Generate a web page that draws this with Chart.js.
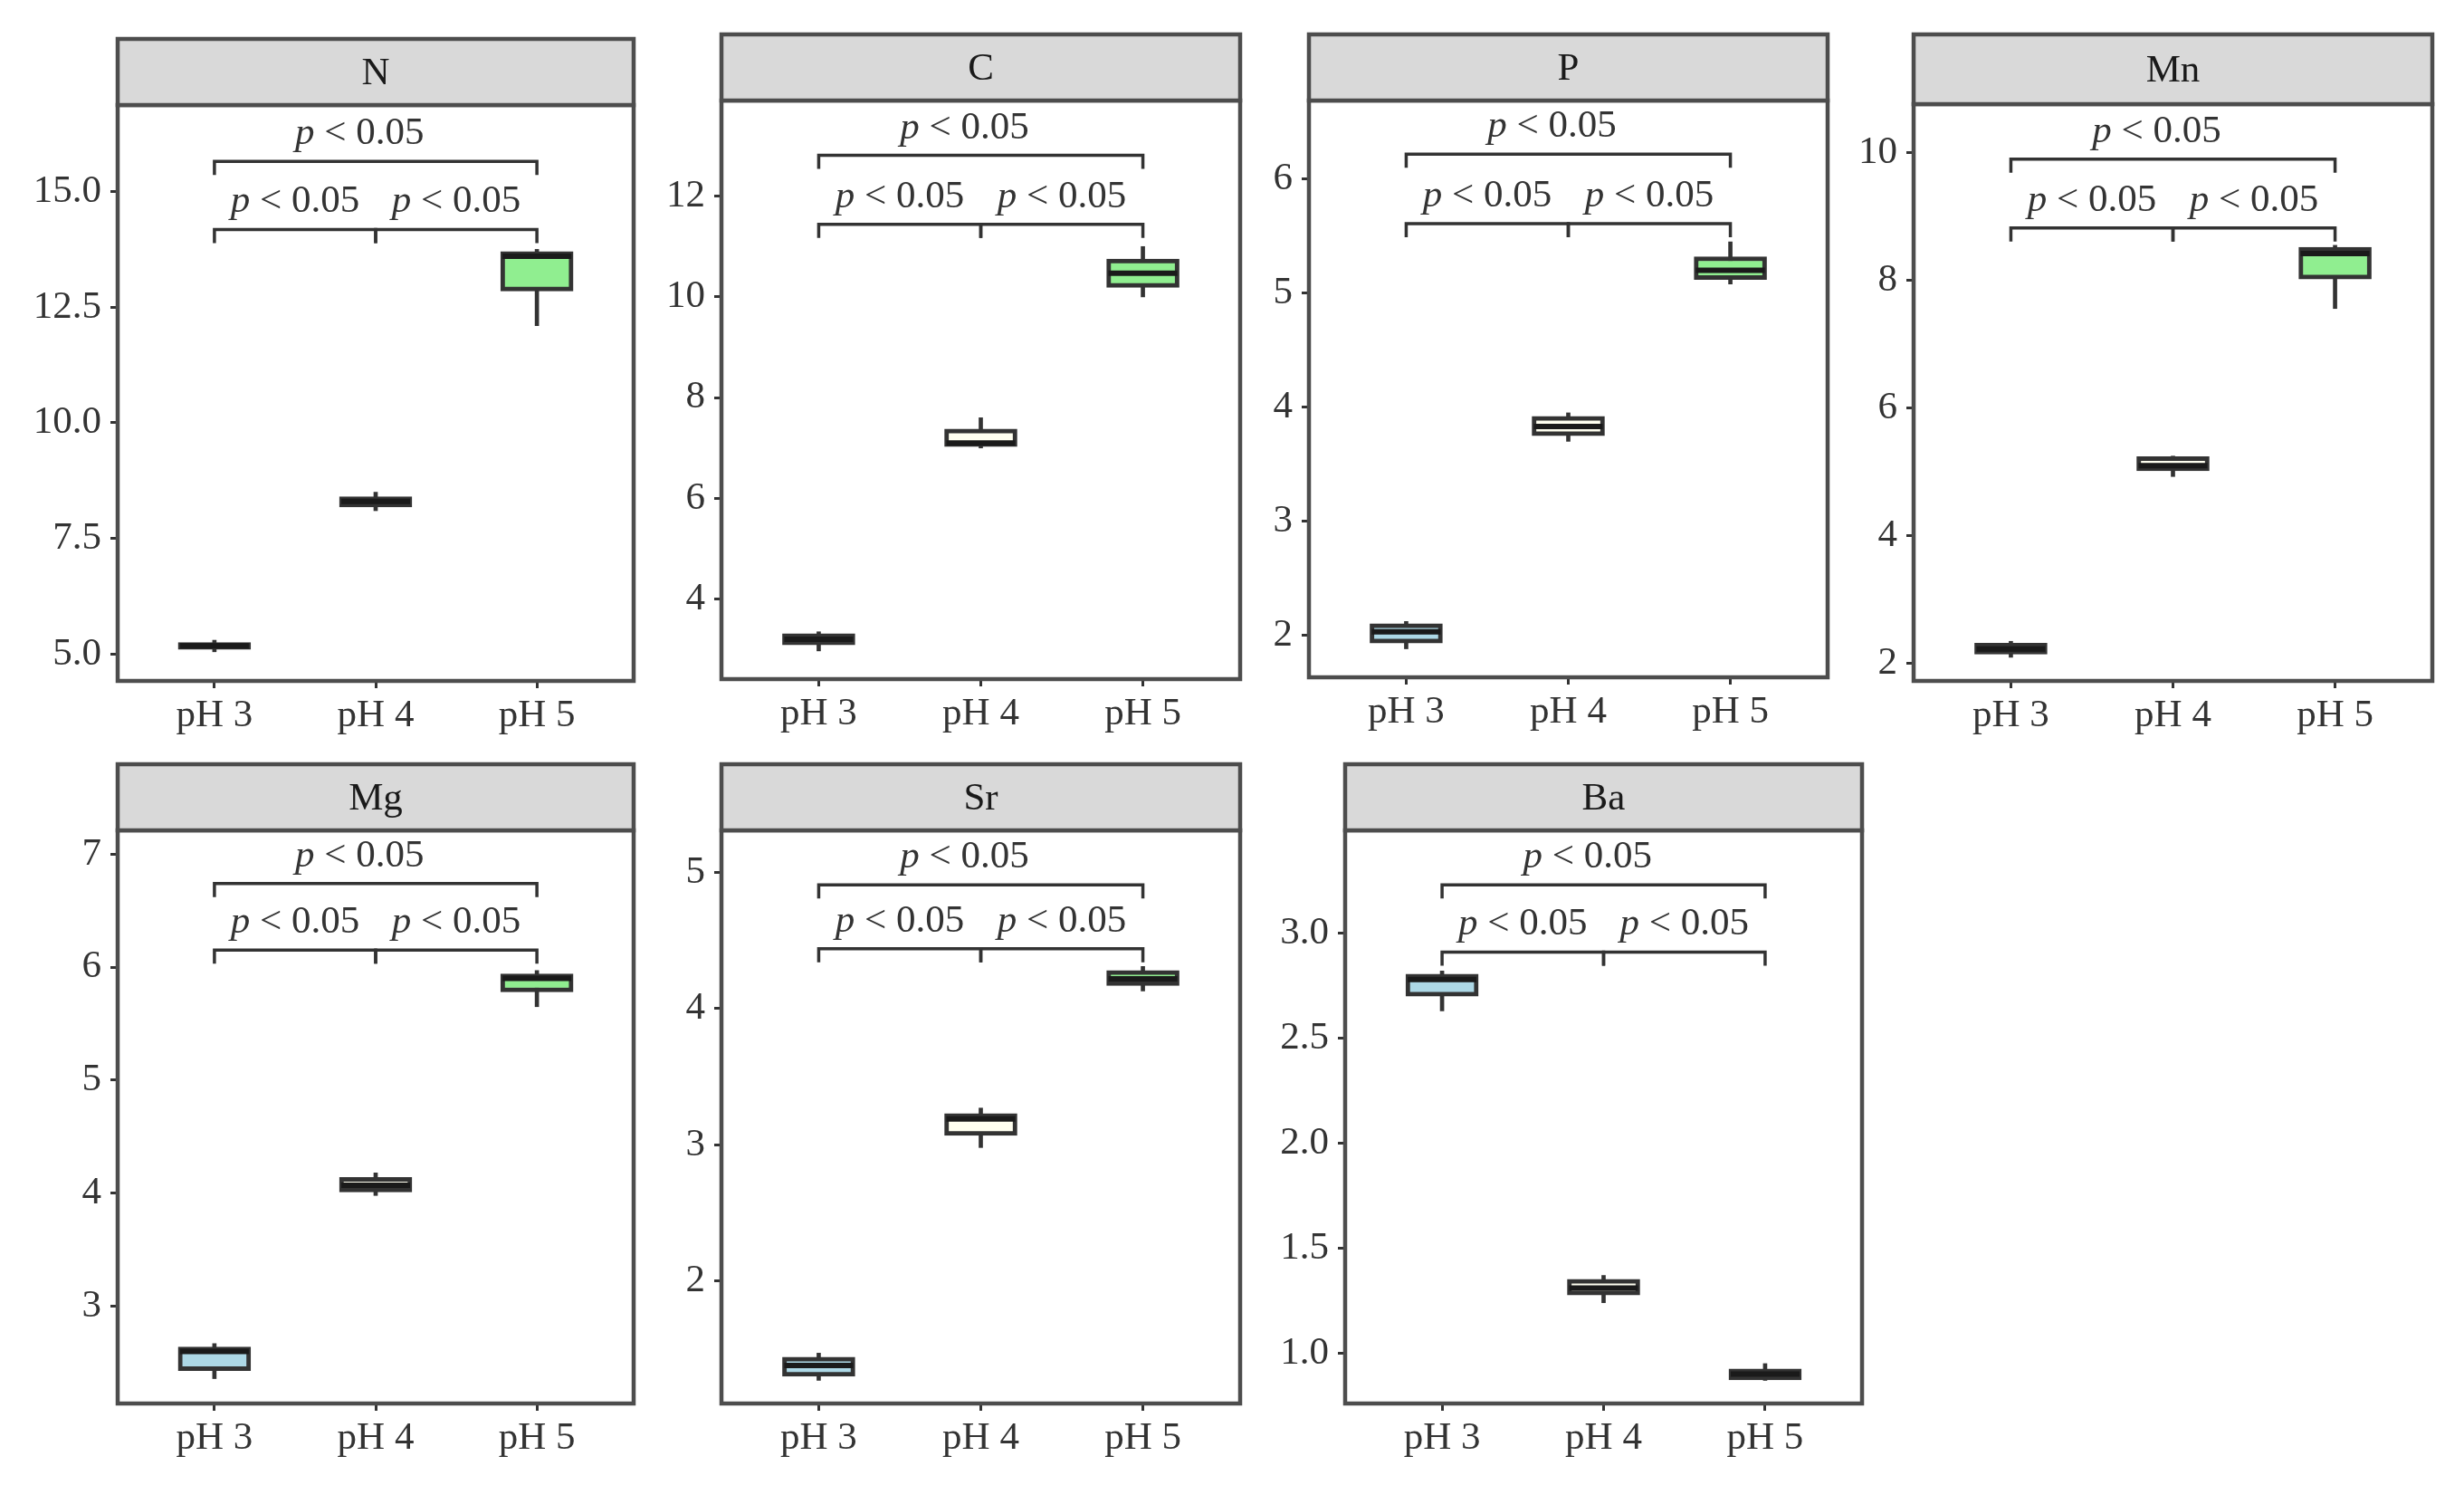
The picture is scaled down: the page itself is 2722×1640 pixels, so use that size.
<!DOCTYPE html>
<html>
<head>
<meta charset="utf-8">
<script src="https://cdn.jsdelivr.net/npm/chart.js@4.4.1/dist/chart.umd.min.js"></script>
<style>
  html, body { margin: 0; padding: 0; background: #fff; }
  body { width: 2722px; height: 1640px; position: relative; overflow: hidden; }
  .panel { position: absolute; }
</style>
</head>
<body>
<script>
// Groups and facets
const groups = ['pH 3', 'pH 4', 'pH 5'];
const facets = ['N', 'C', 'P', 'Mn', 'Mg', 'Sr', 'Ba'];

// Box statistics, one row per facet, one value per group
const whiskerLow = [
  [5.05, 8.1, 12.1], [2.97, 7.0, 10.0], [1.88, 3.7, 5.08], [2.1, 4.93, 7.56],
  [2.36, 3.98, 5.65], [1.27, 2.98, 4.13], [2.63, 1.24, 0.87]
];
const q1 = [
  [5.1, 8.18, 12.85], [3.09, 7.03, 10.19], [1.93, 3.75, 5.12], [2.15, 5.02, 8.02],
  [2.43, 4.01, 5.78], [1.3, 3.07, 4.17], [2.7, 1.277, 0.873]
];
const medians = [
  [5.18, 8.3, 13.6], [3.2, 7.1, 10.47], [2.03, 3.83, 5.2], [2.23, 5.1, 8.42],
  [2.6, 4.07, 5.9], [1.38, 3.19, 4.22], [2.78, 1.31, 0.9]
];
const q3 = [
  [5.25, 8.4, 13.7], [3.31, 7.375, 10.75], [2.1, 3.92, 5.32], [2.32, 5.24, 8.52],
  [2.64, 4.14, 5.94], [1.44, 3.23, 4.28], [2.805, 1.352, 0.925]
];
const whiskerHigh = [
  [5.3, 8.5, 13.75], [3.35, 7.6, 11.0], [2.12, 3.95, 5.45], [2.35, 5.25, 8.55],
  [2.67, 4.18, 5.97], [1.47, 3.27, 4.31], [2.82, 1.37, 0.95]
];

// Axis ranges and tick labels
const yMin = [4.42, 2.41, 1.63, 1.73, 2.14, 1.10, 0.76];
const yMax = [16.87, 13.9, 6.69, 10.76, 7.21, 5.31, 3.49];
const yTicks = [
  [5, 7.5, 10, 12.5, 15], [4, 6, 8, 10, 12], [2, 3, 4, 5, 6], [2, 4, 6, 8, 10],
  [3, 4, 5, 6, 7], [2, 3, 4, 5], [1, 1.5, 2, 2.5, 3]
];
const yDecimals = [1, 0, 0, 0, 0, 0, 1];

// Significance brackets: outer (pH 3 vs pH 5) and inner (neighbours)
const bracketOuter = [15.65, 12.81, 6.22, 9.9, 6.74, 4.91, 3.23];
const bracketInner = [14.18, 11.44, 5.61, 8.82, 6.15, 4.44, 2.91];
const sigLabel = '< 0.05';

// Layout: plot left, right, top, bottom, strip top (page px)
const frames = [
  [130, 700, 116, 752, 43],
  [797, 1370, 111, 750, 38],
  [1446, 2019, 111, 748, 38],
  [2114, 2687, 115, 752, 38],
  [130, 700, 917, 1550, 844],
  [797, 1370, 917, 1550, 844],
  [1486, 2057, 917, 1550, 844]
];

const FONT = '"Liberation Serif", "Times New Roman", serif';
const FS = 43;
const INK = '#333333';
const boxFills = ['#add8e6', '#fffff0', '#90ee90'];
const Y_W = 125;
const X_H = 80;
const PAD_R = 6;
const PAD_T = 4;

// Strip, panel border and p-value text
const facetDecor = {
  id: 'facetDecor',
  afterDatasetsDraw(chart, args, opts) {
    const { ctx, chartArea: a, scales } = chart;
    const i = opts.index;
    ctx.save();
    // panel border
    ctx.strokeStyle = '#4d4d4d';
    ctx.lineWidth = 4.5;
    ctx.strokeRect(a.left, a.top, a.right - a.left, a.bottom - a.top);
    // strip
    ctx.fillStyle = '#d9d9d9';
    ctx.fillRect(a.left, PAD_T, a.right - a.left, a.top - PAD_T);
    ctx.strokeRect(a.left, PAD_T, a.right - a.left, a.top - PAD_T);
    ctx.fillStyle = '#1a1a1a';
    ctx.font = FS + 'px ' + FONT;
    ctx.textAlign = 'center';
    ctx.textBaseline = 'middle';
    ctx.fillText(facets[i], (a.left + a.right) / 2, (PAD_T + a.top) / 2 + 2);

    // p-value labels
    const labels = [
      [1.9, bracketOuter[i]],
      [1.5, bracketInner[i]],
      [2.5, bracketInner[i]]
    ];
    ctx.textAlign = 'left';
    ctx.textBaseline = 'alphabetic';
    ctx.fillStyle = INK;
    labels.forEach(([xv, yv]) => {
      const x = scales.x.getPixelForValue(xv);
      const y = scales.y.getPixelForValue(yv) - 19;
      ctx.font = 'italic ' + FS + 'px ' + FONT;
      const wp = ctx.measureText('p').width;
      ctx.font = FS + 'px ' + FONT;
      const rest = ' ' + sigLabel;
      const wr = ctx.measureText(rest).width;
      const x0 = x - (wp + wr) / 2;
      ctx.font = 'italic ' + FS + 'px ' + FONT;
      ctx.fillText('p', x0, y);
      ctx.font = FS + 'px ' + FONT;
      ctx.fillText(rest, x0 + wp, y);
    });
    ctx.restore();
  }
};

function bracketData(i, level, from, to) {
  const f = frames[i];
  const d = 15 * (yMax[i] - yMin[i]) / (f[3] - f[2]);
  return [
    { x: from, y: level - d },
    { x: from, y: level },
    { x: to, y: level },
    { x: to, y: level - d }
  ];
}

function bracketSet(data) {
  return {
    type: 'line',
    data: data,
    borderColor: INK,
    borderWidth: 3.5,
    pointRadius: 0,
    tension: 0,
    fill: false,
    order: 0
  };
}

// Build one facet; extra widens the canvas so the plot area ends where it should
function buildPanel(i, extra) {
  const [L, R, T, B, S] = frames[i];
  const div = document.createElement('div');
  div.className = 'panel';
  const w = (R - L) + Y_W + PAD_R + extra;
  const h = (B - S) + X_H + PAD_T;
  div.style.left = (L - Y_W) + 'px';
  div.style.top = (S - PAD_T) + 'px';
  div.style.width = w + 'px';
  div.style.height = h + 'px';
  const canvas = document.createElement('canvas');
  canvas.width = w;
  canvas.height = h;
  div.appendChild(canvas);
  document.body.appendChild(div);

  const pts = (arrA, arrB) => groups.map((g, j) => ({ x: j + 1, y: arrB ? [arrA[i][j], arrB[i][j]] : arrA[i][j] }));

  const chart = new Chart(canvas, {
    type: 'bar',
    data: {
      datasets: [
        {
          type: 'bar',
          data: pts(whiskerLow, whiskerHigh),
          backgroundColor: INK,
          borderWidth: 0,
          barThickness: 4,
          grouped: false,
          order: 3
        },
        {
          type: 'bar',
          data: pts(q1, q3),
          backgroundColor: boxFills,
          borderColor: INK,
          borderWidth: 5,
          borderSkipped: false,
          barThickness: 80,
          grouped: false,
          order: 2
        },
        {
          type: 'line',
          data: pts(medians),
          showLine: false,
          pointStyle: 'line',
          pointRadius: 38,
          pointBorderWidth: 6,
          pointBorderColor: '#1a1a1a',
          pointBackgroundColor: '#1a1a1a',
          order: 1
        },
        bracketSet(bracketData(i, bracketOuter[i], 1, 3)),
        bracketSet(bracketData(i, bracketInner[i], 1, 2)),
        bracketSet(bracketData(i, bracketInner[i], 2, 3))
      ]
    },
    options: {
      responsive: false,
      maintainAspectRatio: false,
      devicePixelRatio: 1,
      animation: false,
      events: [],
      layout: { padding: { top: T - S + PAD_T, right: PAD_R, left: 0, bottom: 0 } },
      plugins: {
        legend: { display: false },
        tooltip: { enabled: false },
        facetDecor: { index: i }
      },
      scales: {
        x: {
          type: 'linear',
          min: 0.4,
          max: 3.6,
          offset: false,
          afterBuildTicks: (s) => { s.ticks = groups.map((g, j) => ({ value: j + 1 })); },
          afterFit: (s) => { s.height = X_H; },
          ticks: {
            callback: (v) => groups[Math.round(v) - 1],
            font: { family: FONT, size: FS },
            color: INK,
            padding: 5,
            maxRotation: 0,
            autoSkip: false
          },
          grid: { offset: false, drawOnChartArea: false, drawTicks: true, tickLength: 8, color: INK, lineWidth: 3 },
          border: { display: false }
        },
        y: {
          type: 'linear',
          min: yMin[i],
          max: yMax[i],
          beginAtZero: false,
          afterBuildTicks: (s) => { s.ticks = yTicks[i].map(v => ({ value: v })); },
          afterFit: (s) => { s.width = Y_W; },
          ticks: {
            callback: (v) => Number(v).toFixed(yDecimals[i]),
            font: { family: FONT, size: FS },
            color: INK,
            padding: 10
          },
          grid: { drawOnChartArea: false, drawTicks: true, tickLength: 8, color: INK, lineWidth: 3 },
          border: { display: false }
        }
      }
    },
    plugins: [facetDecor]
  });

  const short = (R - L) - (chart.chartArea.right - chart.chartArea.left);
  if (extra === 0 && Math.abs(short) > 0.5) {
    chart.destroy();
    div.remove();
    buildPanel(i, short);
  }
}

facets.forEach((name, i) => buildPanel(i, 0));
</script>
</body>
</html>
